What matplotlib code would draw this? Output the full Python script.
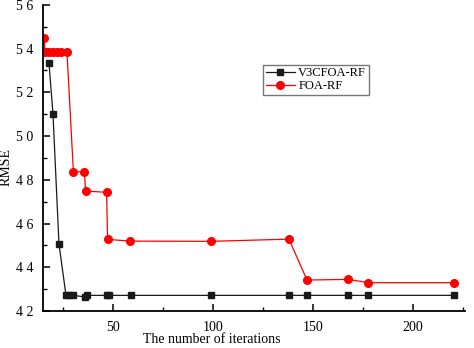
import matplotlib
matplotlib.use("Agg")
import matplotlib.pyplot as plt
from matplotlib.ticker import MultipleLocator

plt.rcParams['font.family'] = ['Liberation Serif', 'DejaVu Serif']

# V3CFOA-RF
v3_x = [18, 20, 23, 26.5, 28, 30, 36, 37, 47, 48, 59, 99, 138, 147, 167.5, 177.7, 220.5]
v3_y = [5.334, 5.10, 4.506, 4.272, 4.272, 4.272, 4.265, 4.272, 4.272, 4.272, 4.272,
        4.272, 4.272, 4.272, 4.272, 4.272, 4.272]

# FOA-RF
foa_x = [15.6, 16, 18, 20, 22, 24, 27, 30.2, 35.7, 36.3, 46.8, 47.3, 58.5, 99, 138, 147, 167.5, 177.7, 220.5]
foa_y = [5.447, 5.383, 5.383, 5.383, 5.383, 5.383, 5.383, 4.837, 4.837, 4.749, 4.743,
         4.528, 4.52, 4.519, 4.529, 4.342, 4.345, 4.33, 4.33]

y_ticks = [4.2, 4.4, 4.6, 4.8, 5.0, 5.2, 5.4, 5.6]
y_labels = ['4 2', '4 4', '4 6', '4 8', '5 0', '5 2', '5 4', '5 6']
x_ticks = [50, 100, 150, 200]

fig = plt.figure(figsize=(4.74, 3.48), dpi=100)
ax = fig.add_axes([0.0907, 0.106, 0.8903, 0.880])

ax.plot(v3_x, v3_y, color='#1a1a1a', lw=0.9, marker='s', ms=4.5, label='V3CFOA-RF')
ax.plot(foa_x, foa_y, color='#ff0000', lw=0.9, marker='o', ms=5.5, label='FOA-RF')

ax.set_xlim(15, 226)
ax.set_ylim(4.2, 5.6)
ax.set_xticks(x_ticks)
ax.xaxis.set_minor_locator(MultipleLocator(25))
ax.set_yticks(y_ticks)
ax.set_yticklabels(y_labels)
ax.yaxis.set_minor_locator(MultipleLocator(0.1))

for s in ['top', 'right']:
    ax.spines[s].set_visible(False)
for s in ['left', 'bottom']:
    ax.spines[s].set_linewidth(1.3)

ax.tick_params(which='major', direction='in', length=5, width=1.1, labelsize=10, pad=7)
ax.tick_params(which='minor', direction='in', length=3, width=1.0)

ax.set_xlabel('The number of iterations', fontsize=10)
ax.set_ylabel('RMSE', fontsize=10)
ax.xaxis.set_label_coords(0.40, -0.072)
ax.yaxis.set_label_coords(-0.072, 0.47)

leg = ax.legend(loc='upper left', bbox_to_anchor=(0.522, 0.805), fontsize=9,
                frameon=True, fancybox=False, borderpad=0.2, handlelength=2.3,
                labelspacing=0.1, borderaxespad=0, handletextpad=0.3)
leg.get_frame().set_edgecolor('#555555')
leg.get_frame().set_linewidth(1.0)

fig.savefig('out.png', dpi=100)
